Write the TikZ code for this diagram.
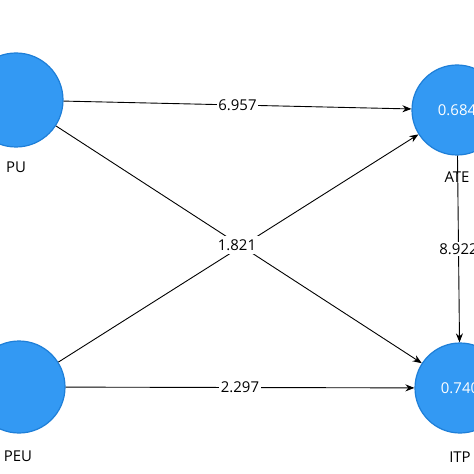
\documentclass[tikz,border=0pt]{standalone}
\usepackage{fontspec}
\setmainfont{Open Sans}
\usetikzlibrary{arrows.meta}
\definecolor{lvfill}{HTML}{3399F3}
\definecolor{lvdraw}{HTML}{1E7FD8}
\begin{document}
\begin{tikzpicture}[x=1bp,y=-1bp,
  latent/.style={circle,fill=lvfill,draw=lvdraw,line width=1.2bp,minimum size=#1,inner sep=0pt,text=white,font=\fontsize{15}{17}\selectfont},
  lvname/.style={font=\fontsize{15}{17}\selectfont,text=black},
  path/.style={draw=black,line width=0.9bp,-{Stealth[length=9bp,width=7bp]}},
  coef/.style={fill=white,inner sep=1.5bp,font=\fontsize{15}{17}\selectfont,text=black}]
\useasboundingbox (0,0) rectangle (474,474);
\fill[white] (0,0) rectangle (474,474);
\node[latent=94bp] (PU) at (16,100) {};
\node[latent=90bp] (ATE) at (457,110) {0.684};
\node[latent=92bp] (PEU) at (19,387) {};
\node[latent=90bp] (ITP) at (460,388) {0.740};
\draw[path] (PU) -- node[coef] {6.957} (ATE);
\draw[path] (PU) -- (ITP);
\draw[path] (PEU) -- (ATE);
\draw[path] (PEU) -- node[coef] {2.297} (ITP);
\draw[path] (ATE) -- node[coef,pos=0.5] {8.922} (ITP);
\node[lvname] (PUl) at (16,167) {PU};
\node[lvname] (ATEl) at (457,177) {ATE};
\node[lvname] (PEUl) at (18,456) {PEU};
\node[lvname] (ITPl) at (460,457) {ITP};
\node[coef,inner sep=3bp] (c1) at (237,245) {1.821};
\end{tikzpicture}
\end{document}
